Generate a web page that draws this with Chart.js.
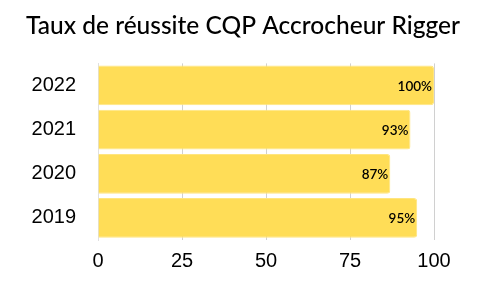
<!DOCTYPE html>
<html><head><meta charset="utf-8">
<script src="https://cdn.jsdelivr.net/npm/chart.js@4"></script>
<style>html,body{margin:0;padding:0;background:#fff}#w{width:486px;height:305px}</style>
</head><body><div id="w"><canvas id="c"></canvas></div>
<script>
const categories = ['2022', '2021', '2020', '2019'];
const values = [100, 93, 87, 95];
const xTicks = [0, 25, 50, 75, 100];
const titleText = 'Taux de réussite CQP Accrocheur Rigger';

const labelPlugin = {
  id: 'barLabels',
  afterDatasetsDraw(chart) {
    const ctx = chart.ctx;
    const meta = chart.getDatasetMeta(0);
    ctx.save();
    ctx.font = '600 13.5px "Lato", sans-serif';
    ctx.fillStyle = '#000';
    ctx.textAlign = 'right';
    ctx.textBaseline = 'middle';
    meta.data.forEach((bar, i) => {
      ctx.fillText(values[i] + '%', bar.x - 2, bar.y + 1);
    });
    ctx.restore();
  }
};

new Chart(document.getElementById('c'), {
  type: 'bar',
  data: {
    labels: categories,
    datasets: [{
      data: values,
      backgroundColor: '#FFDD57',
      borderColor: '#FFE57F',
      borderWidth: 1,
      borderRadius: 3,
      borderSkipped: 'start',
      barPercentage: 0.9,
      categoryPercentage: 1
    }]
  },
  options: {
    indexAxis: 'y',
    responsive: true,
    maintainAspectRatio: false,
    animation: false,
    layout: { padding: { left: 19, right: 19, top: 0, bottom: 23 } },
    plugins: {
      legend: { display: false },
      tooltip: { enabled: false },
      title: {
        display: true,
        text: titleText,
        color: '#000',
        font: { family: '"Lato", sans-serif', size: 24.5, weight: '500' },
        padding: { top: 11, bottom: 23 }
      }
    },
    scales: {
      x: {
        min: 0, max: 100,
        afterBuildTicks(axis) { axis.ticks = xTicks.map(v => ({ value: v })); },
        grid: { color: '#d0d0d0', drawTicks: false },
        border: { display: false },
        ticks: { color: '#000', padding: 9, font: { family: '"Liberation Sans", Arial, sans-serif', size: 20 } }
      },
      y: {
        afterFit(axis) { axis.width = 79; },
        grid: { display: false },
        border: { color: '#e0e0e0' },
        ticks: { color: '#000', padding: 14, font: { family: '"Liberation Sans", Arial, sans-serif', size: 20 } }
      },
      yRight: {
        type: 'category',
        position: 'right',
        grid: { display: false },
        border: { display: false },
        ticks: { display: false },
        afterFit(axis) { axis.width = 33; }
      }
    }
  },
  plugins: [labelPlugin]
});
</script></body></html>
